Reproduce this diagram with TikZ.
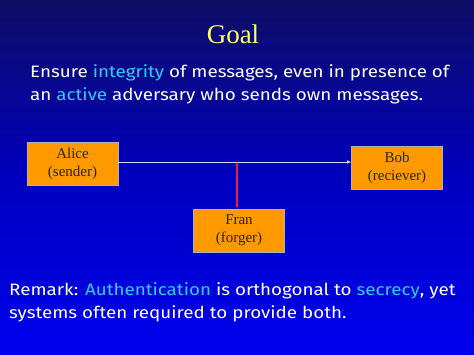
\documentclass[tikz,border=0pt]{standalone}
\usepackage{fontspec}
\setmainfont{Liberation Serif}
\newfontfamily\bodyfont[FakeStretch=1.14]{Fira Sans}
\usetikzlibrary{arrows.meta}
\definecolor{bgtop}{HTML}{0E0E66}
\definecolor{bgbot}{HTML}{0000EE}
\definecolor{boxorange}{HTML}{FF9900}
\definecolor{hilite}{HTML}{33CCFF}
\definecolor{titleyellow}{HTML}{FFFF66}
\definecolor{forgered}{HTML}{E0204A}
\tikzset{
  x=1pt,y=1pt,
  party/.style={draw=gray!60, line width=0.6pt, fill=boxorange, minimum width=91pt, minimum height=43pt,
    align=center, font=\fontsize{15}{18}\selectfont, text=black!85, inner sep=0pt},
  bodytext/.style={anchor=north west, align=left, text=white, font=\bodyfont\fontsize{16.5}{23}\selectfont, inner sep=0pt},
  msg/.style={draw=white!85!blue, line width=0.6pt, -{Latex[length=4pt,width=3.5pt]}},
  forge/.style={draw=forgered, line width=1.2pt, {Latex[length=4pt,width=4pt]}-{Latex[length=4pt,width=4pt]}}
}
\begin{document}
\begin{tikzpicture}
\shade[top color=bgtop, bottom color=bgbot, middle color=blue!75!black] (0,0) rectangle (474,-355);
\useasboundingbox (0,0) rectangle (474,-355);
\node[text=titleyellow, font=\fontsize{27}{30}\selectfont, inner sep=0pt] (title) at (233,-34) {Goal};
\node[bodytext] (goal) at (30,-64) {Ensure \textcolor{hilite}{integrity} of messages, even in presence of\\an \textcolor{hilite}{active} adversary who sends own messages.};
\node[party] (alice) at (72.5,-163.5) {Alice\\(sender)};
\node[party] (bob) at (397,-167.5) {Bob\\(reciever)};
\node[party] (fran) at (239,-230.5) {Fran\\(forger)};
\coordinate (tap) at (237,-162);
\draw[msg] (alice.east |- tap) -- (bob.west |- tap);
\draw[forge] (tap) -- (fran.north -| tap);
\node[bodytext] (remark) at (9,-282) {Remark: \textcolor{hilite}{Authentication} is orthogonal to \textcolor{hilite}{secrecy}, yet\\systems often required to provide both.};
\end{tikzpicture}
\end{document}
